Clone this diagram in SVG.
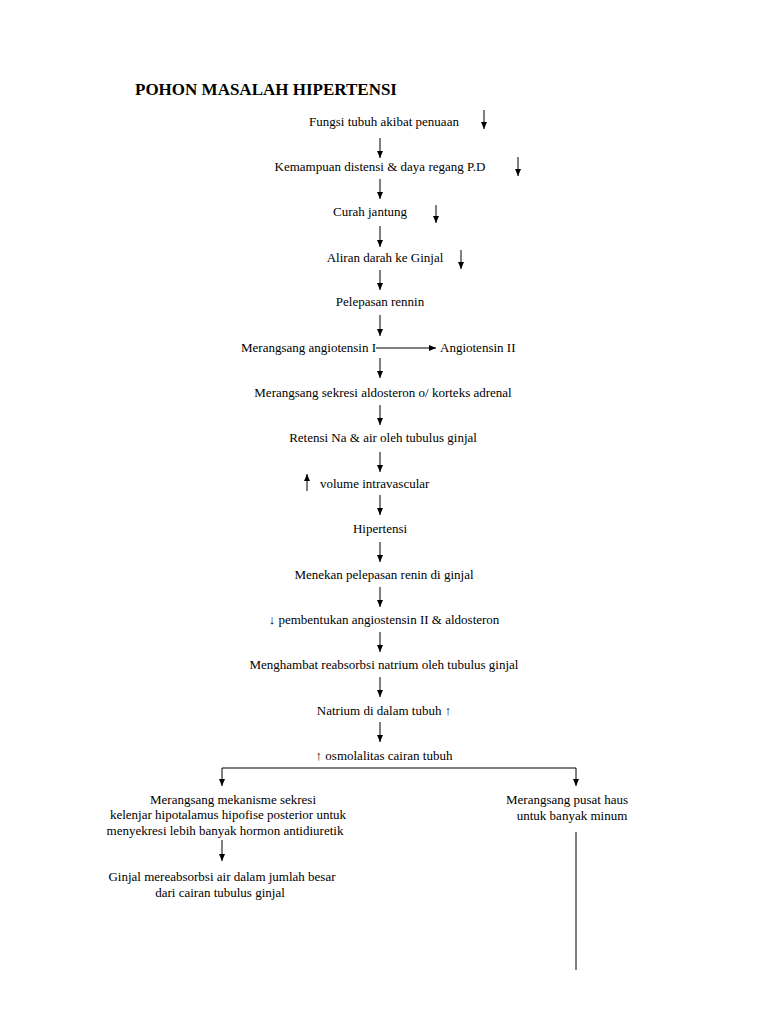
<svg xmlns="http://www.w3.org/2000/svg" width="768" height="1024" viewBox="0 0 768 1024">
<style>
text{font-family:"Liberation Serif",serif;font-size:13px;fill:#000;text-anchor:middle}
.t{font-size:17px;font-weight:bold;text-anchor:start}
.s{text-anchor:start}
line{stroke:#000;stroke-width:1}
.a{marker-end:url(#ah)}
</style>
<defs><marker id="ah" markerWidth="8" markerHeight="8" refX="7" refY="4" orient="auto" markerUnits="userSpaceOnUse"><path d="M0,1 L7,4 L0,7 Z" fill="#000"/></marker></defs>
<rect width="768" height="1024" fill="#fff"/>
<text class="t" x="135" y="95">POHON MASALAH HIPERTENSI</text>
<g id="nodes">
<g id="n1"><text x="384" y="126">Fungsi tubuh akibat penuaan</text></g>
<g id="n2"><text x="380" y="171">Kemampuan distensi &amp; daya regang P.D</text></g>
<g id="n3"><text x="370" y="216">Curah jantung</text></g>
<g id="n4"><text x="385" y="262">Aliran darah ke Ginjal</text></g>
<g id="n5"><text x="380" y="306">Pelepasan rennin</text></g>
<g id="n6"><text class="s" x="241" y="352">Merangsang angiotensin I</text></g>
<g id="n6b"><text class="s" x="440" y="352">Angiotensin II</text></g>
<g id="n7"><text x="383" y="397">Merangsang sekresi aldosteron o/ korteks adrenal</text></g>
<g id="n8"><text x="383" y="442">Retensi Na &amp; air oleh tubulus ginjal</text></g>
<g id="n9"><text class="s" x="320" y="488">volume intravascular</text></g>
<g id="n10"><text x="380" y="533">Hipertensi</text></g>
<g id="n11"><text x="384" y="579">Menekan pelepasan renin di ginjal</text></g>
<g id="n12"><text x="384" y="624">↓ pembentukan angiostensin II &amp; aldosteron</text></g>
<g id="n13"><text x="384" y="669">Menghambat reabsorbsi natrium oleh tubulus ginjal</text></g>
<g id="n14"><text x="384" y="715">Natrium di dalam tubuh ↑</text></g>
<g id="n15"><text x="384" y="760">↑ osmolalitas cairan tubuh</text></g>
<g id="n16"><text x="233" y="804">Merangsang mekanisme sekresi</text><text x="228" y="819">kelenjar hipotalamus hipofise posterior untuk</text><text x="225" y="835">menyekresi lebih banyak hormon antidiuretik</text></g>
<g id="n17"><text x="222" y="881">Ginjal mereabsorbsi air dalam jumlah besar</text><text x="220" y="897">dari cairan tubulus ginjal</text></g>
<g id="n18"><text x="567" y="804">Merangsang pusat haus</text><text x="572" y="820">untuk banyak minum</text></g>
</g>
<g id="connectors">
<line class="a" x1="484" y1="110" x2="484" y2="129"/>
<line class="a" x1="518" y1="157" x2="518" y2="176"/>
<line class="a" x1="436" y1="205" x2="436" y2="223"/>
<line class="a" x1="461" y1="250" x2="461" y2="269"/>
<line class="a" x1="307" y1="491" x2="307" y2="474"/>
<line class="a" x1="380" y1="138" x2="380" y2="158"/>
<line class="a" x1="380" y1="179" x2="380" y2="199"/>
<line class="a" x1="380" y1="226" x2="380" y2="247"/>
<line class="a" x1="380" y1="270" x2="380" y2="290"/>
<line class="a" x1="380" y1="315" x2="380" y2="336"/>
<line class="a" x1="376" y1="348" x2="436" y2="348"/>
<line class="a" x1="380" y1="358" x2="380" y2="378"/>
<line class="a" x1="380" y1="405" x2="380" y2="425"/>
<line class="a" x1="380" y1="452" x2="380" y2="472"/>
<line class="a" x1="380" y1="495" x2="380" y2="515"/>
<line class="a" x1="380" y1="542" x2="380" y2="562"/>
<line class="a" x1="380" y1="587" x2="380" y2="607"/>
<line class="a" x1="380" y1="632" x2="380" y2="652"/>
<line class="a" x1="380" y1="677" x2="380" y2="697"/>
<line class="a" x1="380" y1="722" x2="380" y2="742"/>
<line x1="222" y1="768" x2="576" y2="768"/>
<line class="a" x1="222" y1="768" x2="222" y2="786"/>
<line class="a" x1="576" y1="768" x2="576" y2="786"/>
<line class="a" x1="222" y1="840" x2="222" y2="861"/>
<line x1="576" y1="832" x2="576" y2="970"/>
</g>
</svg>
